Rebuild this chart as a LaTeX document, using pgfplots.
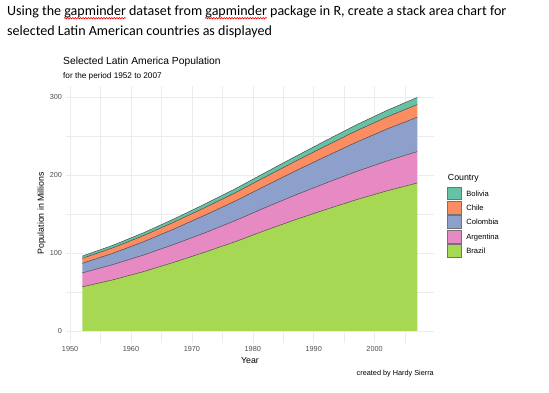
\documentclass[border=0pt]{standalone}
\usepackage{pgfplots}
\pgfplotsset{compat=1.18}
\usepackage{pgfplotstable}
\usetikzlibrary{decorations.pathmorphing}
\usepackage{fontspec}
\setmainfont{Liberation Sans}
\newfontfamily\hdr{Carlito}
\newcommand\hdrfont{\hdr\fontsize{14.05}{17}\selectfont}
\newlength\wA \newlength\wG \newlength\wB
\definecolor{cBol}{HTML}{66C2A5}
\definecolor{cChi}{HTML}{FC8D62}
\definecolor{cCol}{HTML}{8DA0CB}
\definecolor{cArg}{HTML}{E78AC3}
\definecolor{cBra}{HTML}{A6D854}
\definecolor{gridc}{HTML}{EBEBEB}
\definecolor{tickc}{HTML}{4D4D4D}

\pgfplotstableread{
Year Brazil Argentina Colombia Chile Bolivia
1952 56.60 17.88 12.35 6.38 2.88
1957 65.55 19.61 14.49 7.05 3.21
1962 76.04 21.28 17.01 7.96 3.59
1967 88.05 22.93 19.76 8.86 4.04
1972 100.84 24.78 22.54 9.72 4.57
1977 114.31 26.98 25.09 10.60 5.08
1982 128.96 29.34 27.76 11.49 5.64
1987 142.94 31.62 30.96 12.46 6.16
1992 155.98 33.96 34.20 13.57 6.89
1997 168.55 36.20 37.66 14.60 7.69
2002 179.91 38.33 41.01 15.50 8.45
2007 190.01 40.30 44.23 16.28 9.12
}\popdata

\begin{document}
\settowidth\wA{\hdrfont Using the\ }%
\settowidth\wG{\hdrfont gapminder}%
\settowidth\wB{\hdrfont Using the gapminder dataset from\ }%
\begin{tikzpicture}[x=1pt,y=1pt]
\useasboundingbox (0,0) rectangle (549,392);
% header text
\node[anchor=base west, inner sep=0pt, font=\hdrfont] at (7,377)
  {Using the gapminder dataset from gapminder package in R, create a stack area chart for};
\node[anchor=base west, inner sep=0pt, font=\hdrfont] at (7,356)
  {selected Latin American countries as displayed};
\draw[red, line width=0.6pt, decorate, decoration={snake, amplitude=0.8pt, segment length=2.6pt}]
  ({7pt+\wA},373.8pt) -- ({7pt+\wA+\wG},373.8pt);
\draw[red, line width=0.6pt, decorate, decoration={snake, amplitude=0.8pt, segment length=2.6pt}]
  ({7pt+\wB},373.8pt) -- ({7pt+\wB+\wG},373.8pt);
% titles
\node[anchor=base west, inner sep=0pt, font=\fontsize{10.3}{12}\selectfont] at (63,327) {Selected Latin America Population};
\node[anchor=base west, inner sep=0pt, font=\fontsize{8.2}{10}\selectfont] at (63,313) {for the period 1952 to 2007};
\node[anchor=base, inner sep=0pt, font=\fontsize{8.8}{10}\selectfont] at (250,29) {Year};
\node[rotate=90, inner sep=0pt, font=\fontsize{8.8}{10}\selectfont] at (41.7,178.6) {Population in Millions};
\node[anchor=base east, inner sep=0pt, font=\fontsize{7.3}{9}\selectfont] at (434,17) {created by Hardy Sierra};
\node[anchor=base west, inner sep=0pt, font=\fontsize{8.8}{10}\selectfont] at (447.7,212) {Country};

\pgfplotsset{
  myaxis/.style={
    scale only axis,
    width=368.5pt, height=256.9pt,
    at={(65.5pt,49.4pt)}, anchor=south west,
    xmin=1949.25, xmax=2009.75, ymin=-15, ymax=315,
    axis line style={draw=none},
    major tick length=0pt, minor tick length=0pt,
    xtick={1950,1960,...,2000}, ytick={0,100,200,300},
    minor xtick={1955,1965,...,2005}, minor ytick={50,150,250},
    tick label style={font=\fontsize{7.3}{9}\selectfont, text=tickc},
    /pgf/number format/assume math mode=true,
    /pgf/number format/1000 sep={},
  }
}

\begin{axis}[myaxis,
  grid=both,
  major grid style={draw=gridc, line width=0.55pt},
  minor grid style={draw=gridc, line width=0.3pt},
  stack plots=y,
  reverse legend,
  legend cell align=left,
  legend image code/.code={\draw[#1, draw=black!55, line width=0.5pt] (0pt,-6.4pt) rectangle (14pt,6.4pt);},
  legend style={at={(1.036,0.607)}, anchor=north west, draw=none, fill=none,
    inner sep=0pt, outer sep=0pt, row sep=1.1pt,
    font=\fontsize{7.6}{9}\selectfont,
    nodes={inner sep=0pt, text depth=0pt},
    /tikz/every odd column/.append style={column sep=4.6pt}},
]
\addplot[fill=cBra, draw=none] table[x=Year, y=Brazil] {\popdata} \closedcycle;
\addlegendentry{Brazil}
\addplot[fill=cArg, draw=none] table[x=Year, y=Argentina] {\popdata} \closedcycle;
\addlegendentry{Argentina}
\addplot[fill=cCol, draw=none] table[x=Year, y=Colombia] {\popdata} \closedcycle;
\addlegendentry{Colombia}
\addplot[fill=cChi, draw=none] table[x=Year, y=Chile] {\popdata} \closedcycle;
\addlegendentry{Chile}
\addplot[fill=cBol, draw=none] table[x=Year, y=Bolivia] {\popdata} \closedcycle;
\addlegendentry{Bolivia}
\end{axis}

\begin{axis}[myaxis, hide axis, stack plots=y]
\addplot[draw=black!75, line width=0.45pt] table[x=Year, y=Brazil] {\popdata};
\addplot[draw=black!75, line width=0.45pt] table[x=Year, y=Argentina] {\popdata};
\addplot[draw=black!75, line width=0.45pt] table[x=Year, y=Colombia] {\popdata};
\addplot[draw=black!75, line width=0.45pt] table[x=Year, y=Chile] {\popdata};
\addplot[draw=black!75, line width=0.45pt] table[x=Year, y=Bolivia] {\popdata};
\end{axis}
\end{tikzpicture}
\end{document}
